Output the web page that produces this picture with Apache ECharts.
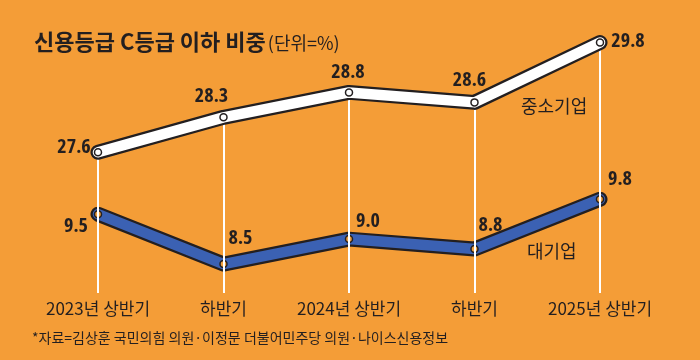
<!DOCTYPE html>
<html><head><meta charset="utf-8">
<script src="https://cdn.jsdelivr.net/npm/echarts@6/dist/echarts.min.js"></script>
<style>html,body{margin:0;padding:0;background:#f49d37;}#c{width:700px;height:360px;}</style>
</head><body><div id="c"></div>
<script>
const categories = ['2023년 상반기', '하반기', '2024년 상반기', '하반기', '2025년 상반기'];
const smeName = '중소기업';
const smeValues = [27.6, 28.3, 28.8, 28.6, 29.8];
const largeName = '대기업';
const largeValues = [9.5, 8.5, 9.0, 8.8, 9.8];
const titleText = '신용등급 C등급 이하 비중';
const unitText = '(단위=%)';
const sourceText = '*자료=김상훈 국민의힘 의원·이정문 더불어민주당 의원·나이스신용정보';

// styling (label offsets relative to points)
const smeOffsets = [[-24, -5], [-12, -21], [-1, -20], [-5, -22], [28, -1]];
const largeOffsets = [[-22, 12], [17, -26], [19, -18], [16, -24], [20, -20]];

const DARK = '#231f20';
const BG = '#f49d37';
const BLUE = '#3b61b3';
const NUMFONT = '"Open Sans","Noto Sans","Liberation Sans",sans-serif';
const KFONT = '"Noto Sans CJK KR","Noto Sans",sans-serif';

const upMin = 24.78, upMax = 29.85, loMin = 7.92, loMax = 12.99;

const chart = echarts.init(document.getElementById('c'), null, {renderer: 'canvas'});

function labeled(values, offsets) {
  return values.map((v, i) => ({
    value: v,
    label: {offset: offsets[i]}
  }));
}

const vlines = smeValues.map((v, i) => [{coord: [i, v]}, {coord: [i, upMin]}]);

const numLabel = {show: true, position: 'inside', align: 'center', verticalAlign: 'middle',
  color: DARK, fontFamily: NUMFONT, fontWeight: 'bold condensed', fontSize: 20,
  formatter: p => p.value.toFixed(1)};

chart.setOption({
  backgroundColor: BG,
  animation: false,
  title: {
    left: 29, top: 26,
    text: '{a|' + titleText + '}{b|' + unitText + '}',
    textStyle: {
      rich: {
        a: {fontFamily: KFONT, fontWeight: 'bold', fontSize: 22, color: DARK},
        b: {fontFamily: KFONT, fontWeight: 'normal', fontSize: 18, color: DARK, padding: [2, 0, 0, 2]}
      }
    }
  },
  grid: {left: 98, right: 100, top: 40, bottom: 67},
  xAxis: {
    type: 'category', data: categories, boundaryGap: false,
    axisLine: {show: false}, axisTick: {show: false}, splitLine: {show: false},
    axisLabel: {interval: 0, color: DARK, fontFamily: KFONT, fontSize: 17, margin: 7}
  },
  yAxis: [
    {type: 'value', min: upMin, max: upMax, show: false, splitLine: {show: false}},
    {type: 'value', min: loMin, max: loMax, show: false, splitLine: {show: false}}
  ],
  graphic: [
    {type: 'text', left: 521, top: 97, style: {text: smeName, fill: DARK, font: '18px ' + KFONT}},
    {type: 'text', left: 527, top: 242, style: {text: largeName, fill: DARK, font: '18px ' + KFONT}},
    {type: 'text', left: 32, top: 331, style: {text: sourceText, fill: DARK, font: '14px ' + KFONT}}
  ],
  series: [
    {
      type: 'line', yAxisIndex: 0, data: smeValues, symbol: 'none', silent: true, z: 1,
      lineStyle: {width: 0, opacity: 0},
      markLine: {silent: true, symbol: 'none', label: {show: false},
        lineStyle: {color: '#ffffff', width: 2, type: 'solid'}, data: vlines}
    },
    {
      type: 'line', yAxisIndex: 1, data: largeValues, symbol: 'none', clip: false, z: 3,
      lineStyle: {color: DARK, width: 15, cap: 'round', join: 'round'}
    },
    {
      type: 'line', yAxisIndex: 1, data: labeled(largeValues, largeOffsets), clip: false, z: 4,
      symbol: 'circle', symbolSize: 7,
      itemStyle: {color: '#f0a040', borderColor: DARK, borderWidth: 1.5},
      lineStyle: {color: BLUE, width: 10.5, cap: 'round', join: 'round'},
      label: numLabel
    },
    {
      type: 'line', yAxisIndex: 0, data: smeValues, symbol: 'none', clip: false, z: 5,
      lineStyle: {color: DARK, width: 15, cap: 'round', join: 'round'}
    },
    {
      type: 'line', yAxisIndex: 0, data: labeled(smeValues, smeOffsets), clip: false, z: 6,
      symbol: 'circle', symbolSize: 7,
      itemStyle: {color: '#ffffff', borderColor: DARK, borderWidth: 1.5},
      lineStyle: {color: '#ffffff', width: 10.5, cap: 'round', join: 'round'},
      label: numLabel
    }
  ]
});
</script>
</body></html>
